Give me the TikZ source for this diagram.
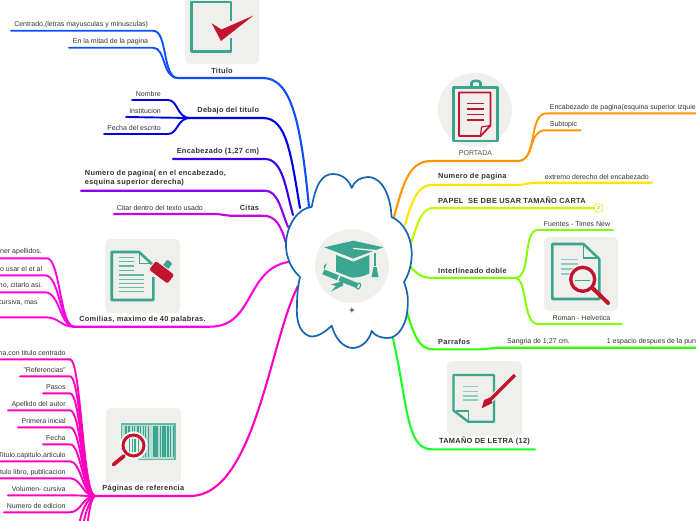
\documentclass[tikz,border=0pt]{standalone}
\usepackage{fontspec}
\setmainfont{Liberation Sans}
\newfontfamily\boldlab[LetterSpace=4]{Liberation Sans Bold}
\definecolor{tealic}{HTML}{3BA68F}
\definecolor{tealli}{HTML}{8FCDBE}
\definecolor{redic}{HTML}{C2142F}
\definecolor{boxbg}{HTML}{EFEFEB}
\definecolor{ink}{HTML}{333333}
\definecolor{cloudc}{HTML}{1565B0}
\definecolor{cTit}{HTML}{0A50FF}
\definecolor{cDeb}{HTML}{0000E6}
\definecolor{cEnc}{HTML}{3C00E6}
\definecolor{cNum}{HTML}{8C00F0}
\definecolor{cCit}{HTML}{C800E6}
\definecolor{cCom}{HTML}{FF00E0}
\definecolor{cPag}{HTML}{FF00BE}
\definecolor{cPor}{HTML}{FF9600}
\definecolor{cNpg}{HTML}{FFE600}
\definecolor{cPap}{HTML}{BEFF00}
\definecolor{cInt}{HTML}{80FF00}
\definecolor{cPar}{HTML}{33FF00}
\definecolor{cTam}{HTML}{19FF2A}
\tikzset{
  br/.style={line width=1.9pt,line cap=round},
  brm/.style={line width=2.1pt,line cap=round},
  sm/.style={font=\fontsize{7}{8}\selectfont,text=ink,inner sep=0pt},
  smr/.style={sm,anchor=east},
  sml/.style={sm,anchor=west},
  bd/.style={font=\fontsize{7.4}{9}\selectfont\boldlab,text=ink,inner sep=0pt},
  bdl/.style={bd,anchor=west},
  bdr/.style={bd,anchor=east},
  iconbox/.style={fill=boxbg,rounded corners=5pt},
  tl/.style={draw=tealic,line width=2.6pt,line join=round},
  tlf/.style={draw=tealic!80,line width=1.4pt},
  rd/.style={draw=redic,line join=round},
}
\begin{document}
\begin{tikzpicture}[x=1pt,y=-1pt]
\useasboundingbox (0,0) rectangle (696,520);
\clip (0,0) rectangle (696,520);

% ---------- named points
\coordinate (hub) at (352,262);
\coordinate (aTit) at (309,207); \coordinate (bTit) at (263,78); \coordinate (jTit) at (178,78);
\coordinate (t1a) at (153,30.7); \coordinate (t1b) at (11,30.7);
\coordinate (t2a) at (153,47.7); \coordinate (t2b) at (69,47.7);
\coordinate (aDeb) at (300,208); \coordinate (bDeb) at (263,118); \coordinate (jDeb) at (190,118);
\coordinate (d1a) at (168,100); \coordinate (d1b) at (132,100);
\coordinate (d2b) at (126,117);
\coordinate (d3a) at (168,134); \coordinate (d3b) at (104,134);
\coordinate (aEnc) at (293,215); \coordinate (bEnc) at (265,159); \coordinate (jEnc) at (173,159);
\coordinate (aNum) at (288,227); \coordinate (bNum) at (265,190.7); \coordinate (jNum) at (81,190.7);
\coordinate (aCit) at (286,243); \coordinate (bCit) at (263,215.7); \coordinate (mCit) at (230,215.7); \coordinate (nCit) at (217,214); \coordinate (jCit) at (114,214);
\coordinate (aCom) at (290,261.7); \coordinate (bCom) at (210,326.7); \coordinate (jCom) at (74,326.7);
\coordinate (aPag) at (298,286); \coordinate (bPag) at (190,496); \coordinate (jPag) at (95,496);
\coordinate (aPor) at (394,217); \coordinate (bPor) at (431.7,161); \coordinate (jPor) at (518,161);
\coordinate (p1a) at (546.7,113.3); \coordinate (p1b) at (696,113.3);
\coordinate (p2a) at (545,130.3); \coordinate (p2b) at (580.7,130.3);
\coordinate (aNpg) at (405,225); \coordinate (bNpg) at (431.7,185); \coordinate (mNpg) at (516.7,185); \coordinate (nNpg) at (536.7,182.7); \coordinate (jNpg) at (652,182.7);
\coordinate (aPap) at (411,243); \coordinate (bPap) at (433,208); \coordinate (jPap) at (594,208);
\coordinate (aInt) at (408,264); \coordinate (bInt) at (433,278); \coordinate (jInt) at (515,278);
\coordinate (i1a) at (538,230); \coordinate (i1b) at (613,230);
\coordinate (i2a) at (538,324); \coordinate (i2b) at (622,324);
\coordinate (aPar) at (405,305); \coordinate (bPar) at (433,349.3); \coordinate (mPar) at (480,349.3); \coordinate (nPar) at (500,347.7); \coordinate (jPar) at (696,347.7);
\coordinate (aTam) at (391,330); \coordinate (bTam) at (431.7,449.3); \coordinate (jTam) at (535,449.3);

% ---------- left connectors
\draw[brm,cTit] (aTit) .. controls (301,125) and (292,78) .. (bTit) -- (jTit);
\draw[br,cTit] (t1b) -- (t1a) .. controls (168,30.7) and (162,78) .. (jTit);
\draw[br,cTit] (t2b) -- (t2a) .. controls (166,47.7) and (162,78) .. (jTit);
\draw[brm,cDeb] (aDeb) .. controls (291,155) and (287,118) .. (bDeb) -- (jDeb);
\draw[br,cDeb] (d1b) -- (d1a) .. controls (178,100) and (177,118) .. (jDeb);
\draw[br,cDeb] (d2b) -- (jDeb);
\draw[br,cDeb] (d3b) -- (d3a) .. controls (178,134) and (177,118) .. (jDeb);
\draw[brm,cEnc] (aEnc) .. controls (286,190) and (283,159) .. (bEnc) -- (jEnc);
\draw[brm,cNum] (aNum) .. controls (281,210) and (278,190.7) .. (bNum) -- (jNum);
\draw[brm,cCit] (aCit) .. controls (281,226) and (276,215.7) .. (bCit) -- (mCit) .. controls (224,215.7) and (223,214) .. (nCit) -- (jCit);
\draw[brm,cCom] (aCom) .. controls (245,268) and (255,326.7) .. (bCom) -- (jCom);
\foreach \yy/\xx in {258.3/47,275.3/45,292.3/45,317.3/45}{
  \draw[br,cCom] (jCom) .. controls (60,326.7) and (60,\yy) .. (\xx,\yy) -- (0,\yy);
}
\draw[brm,cPag] (aPag) .. controls (270,340) and (255,496) .. (bPag) -- (jPag);
\foreach \yy/\xx in {359.3/0,376.3/20,393.3/43,410.3/8,427.3/18,444.3/43,461.3/0,478.3/0,495.3/8,512.3/4}{
  \draw[br,cPag] (jPag) .. controls (83,496) and (81,\yy) .. (70,\yy) -- (\xx,\yy);
}
\draw[br,cPag] (jPag) .. controls (86,500) and (82,510) .. (79,525);
\draw[br,cPag] (jPag) .. controls (90,500) and (86,510) .. (83,525);
\draw[br,cPag] (jPag) .. controls (90,500) and (90,510) .. (87,525);

% ---------- right connectors
\draw[brm,cPor] (aPor) .. controls (404,180) and (410,161) .. (bPor) -- (jPor);
\draw[br,cPor] (jPor) .. controls (538,161) and (528,113.3) .. (p1a) -- (p1b);
\draw[br,cPor] (jPor) .. controls (535,161) and (528,130.3) .. (p2a) -- (p2b);
\draw[brm,cNpg] (aNpg) .. controls (412,200) and (418,185) .. (bNpg) -- (mNpg) .. controls (524,185) and (528,182.7) .. (nNpg) -- (jNpg);
\draw[brm,cPap] (aPap) .. controls (418,222) and (422,208) .. (bPap) -- (jPap);
\node[draw=cNpg!70!cPap,fill=white,rounded corners=1.8pt,line width=.8pt,minimum size=8pt,inner sep=0pt,font=\fontsize{4.5}{5}\selectfont,text=ink!70] (pbadge) at (598.7,208) {2};
\draw[brm,cInt] (aInt) .. controls (417,275) and (423,278) .. (bInt) -- (jInt);
\draw[br,cInt] (jInt) .. controls (532,278) and (522,230) .. (i1a) -- (i1b);
\draw[br,cInt] (jInt) .. controls (528,278) and (522,324) .. (i2a) -- (i2b);
\draw[brm,cPar] (aPar) .. controls (414,338) and (420,349.3) .. (bPar) -- (mPar) .. controls (488,349.3) and (492,347.7) .. (nPar) -- (jPar);
\draw[brm,cTam] (aTam) .. controls (408,400) and (405,449.3) .. (bTam) -- (jTam);

% ---------- cloud
\draw[draw=cloudc,fill=white,line width=1.7pt,line join=round] (311.7,207)
  .. controls (316,184) and (322,174) .. (333,174)
  .. controls (342,174) and (349,180) .. (351.7,188)
  .. controls (354,181) and (361,177) .. (368,177)
  .. controls (383,177) and (391,198) .. (391.5,217)
  .. controls (404,222) and (412,238) .. (411.7,255)
  .. controls (411.5,266) and (408,276) .. (404,282)
  .. controls (407,290) and (408.5,298) .. (407.7,306)
  .. controls (407,325) and (398,338) .. (388,338)
  .. controls (381,338) and (375,336) .. (371.7,331)
  .. controls (369,341) and (361,348) .. (353,348)
  .. controls (343,348) and (335,338) .. (331.7,325.7)
  .. controls (324,333) and (316,338) .. (309,336)
  .. controls (299,332) and (296,320) .. (297,305)
  .. controls (297,295) and (298,285) .. (300,277)
  .. controls (290,268) and (285.5,255) .. (286,243)
  .. controls (287,225) and (298,208) .. (311.7,207) -- cycle;

% ---------- central icon
\fill[boxbg] (352,266) circle (37);
\fill[tealic] (336,255) -- (336,273.3) .. controls (345,279) and (360,279) .. (369.3,273.3) -- (369.3,255) -- (353.3,261.7) -- cycle;
\fill[tealic] (324.3,247.3) -- (353.3,240.7) -- (383.3,247.3) -- (353.3,258.5) -- cycle;
\draw[boxbg,line width=1.2pt,line cap=round] (336,253.5) -- (353.3,260.5) -- (369.3,253.5);
\draw[white,line width=1.2pt,line cap=round] (353.5,248.5) -- (375,250.5);
\draw[tealic,line width=1.8pt] (375,253) -- (375,266);
\fill[tealic] (373.5,267) -- (376.5,267) -- (378.5,277) -- (371.5,277) -- cycle;
\begin{scope}[shift={(341,279)},rotate=-22]
  \fill[boxbg] (-21,-5) rectangle (21,5);
  \fill[tealic] (-19,-2.6) rectangle (19,2.6);
  \fill[tealic] (-19,-3) arc[start angle=90,end angle=270,x radius=1.6,y radius=3] -- cycle;
  \filldraw[fill=boxbg,draw=tealic,line width=1.1pt] (19,0) ellipse (1.7 and 3.2);
  \draw[boxbg,line width=1.6pt] (-2.5,-4) -- (-2.5,4);
\end{scope}
\fill[tealic] (343,281) -- (331,284.5) -- (336,286) -- (331,291.5) -- (343,285.5) -- cycle;

% ---------- Titulo icon
\fill[iconbox] (185,-10) rectangle (259,64);
\draw[tl] (231,20.5) -- (231,2) -- (191.5,2) -- (191.5,51.5) -- (231,51.5) -- (231,38);
\fill[redic] (211.7,23.3) -- (221.5,29.5) -- (253.5,15.5) -- (221,41) -- cycle;

% ---------- Comilias icon
\fill[iconbox] (105,239) rectangle (180,313);
\draw[tl] (153.3,277) -- (153.3,300) -- (111.7,300) -- (111.7,252) -- (139,252) -- (152,264);
\draw[tl,line width=1.8pt] (139.5,252.5) -- (139.5,263.5) -- (151,263.5);
\foreach \yy in {257.3,261.7,266,270.7}{\draw[tlf] (118.5,\yy) -- (134,\yy);}
\foreach \yy in {275,279.3,283.3,287.3,291.7}{\draw[tlf] (118.5,\yy) -- (143.5,\yy);}
\begin{scope}[shift={(161.7,272.3)},rotate=-37]
  \fill[tealic,rounded corners=1pt] (-3.2,-13.5) rectangle (3.2,-5);
  \fill[boxbg] (-5,-6.6) rectangle (5,-5);
  \fill[redic,rounded corners=1.5pt] (-11.5,-5.5) rectangle (11.5,5.5);
\end{scope}

% ---------- Paginas icon
\fill[iconbox] (106,408) rectangle (181,482);
\fill[tealli!55!boxbg] (121.7,424) rectangle (175,459.3);
\draw[tealic!80,line width=1.1pt] (121.7,424) rectangle (175,459.3);
\foreach \xa/\wa in {125/1.6,128/1.8,131.5/1.2,134/1.4,137/2,140/1.4,142.5/1,144.5/1.4,147.5/1.2,152.5/5.5,159.5/.9,161.5/4,167/1.6,170/1.4,172.5/.9}{
  \fill[tealic] (\xa,426) rectangle ++(\wa,31);
}
\fill[boxbg] (120,449) rectangle (138,461);
\fill[white] (133.5,445.5) circle (14);
\fill[boxbg] (133.5,445.5) circle (9.5);
\foreach \xa/\wa in {129/1.4,131.5/1.4,134/2.4,137.5/1}{\fill[tealic] (\xa,439) rectangle ++(\wa,13);}
\draw[redic,line width=3pt] (133.5,445.5) circle (10.5);
\draw[redic,line width=3.8pt,line cap=round] (124,456) -- (113.5,464.5);

% ---------- Portada icon
\fill[boxbg] (475,110) circle (37);
\draw[tl] (471.5,87) -- (471.5,83) .. controls (471.5,80) and (480.5,80) .. (480.5,83) -- (480.5,87);
\draw[tl] (453.5,87.3) rectangle (497.5,141);
\draw[rd,line width=1.8pt] (490.5,125.5) -- (490.5,92.5) -- (459,92.5) -- (459,136) -- (480.5,136) -- cycle;
\draw[rd,line width=1.2pt] (480.5,136) -- (481.5,127) -- (490.5,125.5);
\foreach \yy in {103.3,109,114.3,120}{\draw[redic,line width=1.5pt] (466.7,\yy) -- (484.3,\yy);}

% ---------- Interlineado icon
\fill[iconbox] (544,237) rectangle (618,311);
\draw[tl] (599.3,259) -- (599.3,299) -- (552.3,299) -- (552.3,244) -- (583.5,244) -- cycle;
\draw[tl,line width=1.8pt] (583.5,244) -- (583.5,258.3) -- (599.3,258.3);
\foreach \yy in {259.5,264,269,274}{\draw[tealli,line width=1.3pt] (560.5,\yy) -- (578,\yy);}
\fill[white] (582.7,279.3) circle (14.5);
\fill[boxbg] (582.7,279.3) circle (11);
\draw[tealic,line width=1.6pt] (575,280.5) -- (590,280.5);
\draw[redic,line width=3.4pt] (582.7,279.3) circle (12);
\draw[redic,line width=4pt,line cap=round] (593,288.5) -- (608,303);

% ---------- Tamano icon
\fill[iconbox] (447,361) rectangle (522,436);
\draw[tl,line width=2.4pt] (494,375) -- (453.5,375) -- (453.5,410.5) -- (468.3,421.7) -- (494,421.7) -- cycle;
\draw[tl,line width=1.4pt] (456,411) -- (468.3,411) -- (468.3,421);
\foreach \yy in {386.7,391.7,396,400}{\draw[tealli,line width=1.5pt] (463.3,\yy) -- (478.3,\yy);}
\draw[boxbg,line width=6pt] (515,375) -- (489,401);
\draw[redic,line width=3.4pt] (515,375) -- (489,401);
\fill[redic] (481.7,408.3) -- (484,400) -- (490,397.5) -- (492.5,403) -- cycle;

% ---------- labels
\node[sm,font=\fontsize{9}{9}\selectfont\bfseries] (hubL) at (352,310.5) {+};
\node[bd] (lTit) at (222,70.5) {Titulo};
\node[smr] (t1) at (148.3,24.5) {Centrado,(letras mayusculas y minusculas)};
\node[smr] (t2) at (148.3,41.5) {En la mitad de la pagina};
\node[bdr] (lDeb) at (259.3,110.5) {Debajo del titulo};
\node[smr] (d1) at (161,93.5) {Nombre};
\node[smr] (d2) at (161,110.5) {Institucion};
\node[smr] (d3) at (161,127.5) {Fecha del escrito};
\node[bdr] (lEnc) at (259.3,151.5) {Encabezado (1,27 cm)};
\node[bdl,align=left,font=\fontsize{7.4}{9}\selectfont\boldlab] (lNum) at (84.7,178.3) {Numero de pagina( en el encabezado,\\esquina superior derecha)};
\node[bdr] (lCit) at (259.3,207.5) {Citas};
\node[smr] (c1) at (203,207.5) {Citar dentro del texto usado};
\node[bd] (lCom) at (142.5,319.3) {Comilias, maximo de 40 palabras.};
\node[smr] (m1) at (42,251.5) {ner apellidos.};
\node[smr] (m2) at (42.3,268.5) {o usar el et al};
\node[smr] (m3) at (42.3,285.5) {mo, citarlo asi.};
\node[smr] (m4) at (37.8,302.5) {cursiva, mas};
\node[bd] (lPag) at (143.3,488.5) {Páginas de referencia};
\node[smr] (g1) at (65.8,353.3) {na,con titulo centrado};
\node[smr] (g2) at (65.8,370.3) {"Referencias"};
\node[smr] (g3) at (65.8,387.3) {Pasos};
\node[smr] (g4) at (65.8,404.3) {Apellido del autor};
\node[smr] (g5) at (65.8,421.3) {Primera inicial};
\node[smr] (g6) at (65.8,438.3) {Fecha};
\node[smr] (g7) at (65.8,455.3) {Titulo,capitulo,articulo};
\node[smr] (g8) at (65.8,472.3) {tulo libro, publicacion};
\node[smr] (g9) at (65.8,489.3) {Volumen- cursiva};
\node[smr] (g10) at (65.8,506.3) {Numero de edicion};
\node[sm,text=ink!85] (lPor) at (475.5,153.5) {PORTADA};
\node[sml] (p1) at (549.7,107.7) {Encabezado de pagina(esquina superior izquierda)};
\node[sml] (p2) at (549.7,124.7) {Subtopic};
\node[bdl] (lNpg) at (438,176.5) {Numero de pagina};
\node[sml] (n1) at (544.7,176.7) {extremo derecho del encabezado};
\node[bdl] (lPap) at (438,200.5) {PAPEL\ \ SE DBE USAR TAMAÑO CARTA};
\node[bdl] (lInt) at (438,270.5) {Interlineado doble};
\node[sml] (i1) at (543.7,223.5) {Fuentes - Times New};
\node[sml] (i2) at (552.5,317.5) {Roman - Helvetica};
\node[bdl] (lPar) at (438,341.5) {Parrafos};
\node[sml] (r1) at (507,341.5) {Sangria de 1,27 cm.};
\node[sml] (r2) at (606.7,341.5) {1 espacio despues de la puntuacion};
\node[bd] (lTam) at (484.5,441.3) {TAMAÑO DE LETRA (12)};
\end{tikzpicture}
\end{document}
